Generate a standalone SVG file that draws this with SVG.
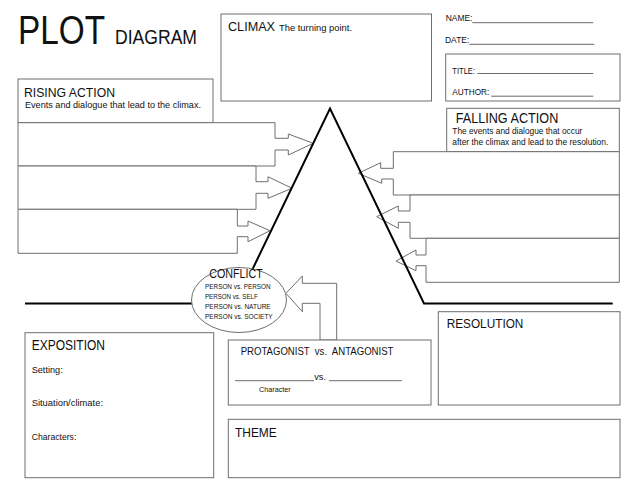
<svg xmlns="http://www.w3.org/2000/svg" width="638" height="493" viewBox="0 0 638 493">
<style>
text{font-family:"Liberation Sans","Open Sans",Arial,sans-serif;fill:#111}
.box{fill:#fff;stroke:#6e6e6e;stroke-width:1}
.ul{stroke:#444;stroke-width:0.8;fill:none}
.plot{fill:none;stroke:#000;stroke-width:2;stroke-linejoin:miter}
.s{font-size:8.6px}
.p{font-size:7.8px}
</style>
<rect width="638" height="493" fill="#fff"/>
<g id="title">
<text x="18" y="44" font-size="40" textLength="87" lengthAdjust="spacingAndGlyphs">PLOT</text>
<text x="115" y="44" font-size="19.5" textLength="82" lengthAdjust="spacingAndGlyphs">DIAGRAM</text>
</g>
<g id="name-date">
<text x="445.7" y="21" font-size="8.8" textLength="26.7" lengthAdjust="spacingAndGlyphs">NAME:</text>
<line class="ul" x1="472.3" y1="22.7" x2="593.3" y2="22.7"/>
<text x="445" y="43.3" font-size="8.8" textLength="24.3" lengthAdjust="spacingAndGlyphs">DATE:</text>
<line class="ul" x1="469.3" y1="44.3" x2="594.3" y2="44.3"/>
</g>
<g id="title-author">
<rect class="box" x="445.7" y="54" width="174.3" height="47"/>
<text x="452.3" y="74" font-size="8.8" textLength="22.7" lengthAdjust="spacingAndGlyphs">TITLE:</text>
<line class="ul" x1="477.3" y1="73.5" x2="593.3" y2="73.5"/>
<text x="452.3" y="95" font-size="8.8" textLength="37" lengthAdjust="spacingAndGlyphs">AUTHOR:</text>
<line class="ul" x1="491.3" y1="96.2" x2="593.3" y2="96.2"/>
</g>
<g id="climax">
<rect class="box" x="221" y="14" width="210.5" height="87"/>
<text x="228" y="30.7" font-size="12.5" textLength="47" lengthAdjust="spacingAndGlyphs">CLIMAX</text>
<text x="279" y="30.7" font-size="9" textLength="73" lengthAdjust="spacingAndGlyphs">The turning point.</text>
</g>
<g id="rising-action">
<rect class="box" x="18" y="79" width="195" height="43.7"/>
<text x="24" y="97" font-size="13" textLength="91" lengthAdjust="spacingAndGlyphs">RISING ACTION</text>
<text x="25" y="108" class="s" textLength="176" lengthAdjust="spacingAndGlyphs">Events and dialogue that lead to the climax.</text>
</g>
<g id="rising-1"><polygon class="box" points="18,122.7 275,122.7 275,138.3 288.3,138.3 288.3,134 313.3,143.3 288.3,155 288.3,150 275,150 275,166 18,166"/></g>
<g id="rising-2"><polygon class="box" points="18,166 256,166 256,181.7 268,181.7 268,176.7 292,188.3 268,198.3 268,193.3 256,193.3 256,209.3 18,209.3"/></g>
<g id="rising-3"><polygon class="box" points="18,209.3 237.3,209.3 237.3,226 248,226 248,221 270,230.7 248,241.7 248,236.7 237.3,236.7 237.3,253.3 18,253.3"/></g>
<g id="falling-action">
<rect class="box" x="446.7" y="108.3" width="172.6" height="43.4"/>
<text x="455.7" y="122.7" font-size="14" textLength="102.6" lengthAdjust="spacingAndGlyphs">FALLING ACTION</text>
<text x="452.3" y="134" class="s" textLength="130" lengthAdjust="spacingAndGlyphs">The events and dialogue that occur</text>
<text x="452.3" y="145.3" class="s" textLength="156" lengthAdjust="spacingAndGlyphs">after the climax and lead to the resolution.</text>
</g>
<g id="falling-1"><polygon class="box" points="619.3,151.7 393.3,151.7 393.3,168.3 380.7,168.3 380.7,162.7 358.3,173.3 381.7,183.3 381.7,179 393.3,179 393.3,195 619.3,195"/></g>
<g id="falling-2"><polygon class="box" points="619.3,195 410,195 410,211 398.3,211 398.3,206 376.7,216.7 398.3,228.3 398.3,222.3 410,222.3 410,238.3 619.3,238.3"/></g>
<g id="falling-3"><polygon class="box" points="619.3,238.3 426,238.3 426,255 416,255 416,250 396,261 416,270.7 416,265.7 426,265.7 426,282.3 619.3,282.3"/></g>
<g id="connectors">
<polyline class="plot" points="25,303.5 236,303.5 330,108.5 424,303.5 612.7,303.5"/>
<polygon class="box" points="336.7,340 336.7,283.3 302.3,283.3 302.3,276 286,293.3 302.3,311.7 302.3,303.3 320,303.3 320,340"/>
</g>
<g id="conflict">
<ellipse class="box" cx="239" cy="300" rx="47.5" ry="32.5"/>
<text x="209.3" y="278.3" font-size="12.5" textLength="53.4" lengthAdjust="spacingAndGlyphs">CONFLICT</text>
<text x="205" y="289" class="p" textLength="65.7" lengthAdjust="spacingAndGlyphs">PERSON vs. PERSON</text>
<text x="205" y="299" class="p" textLength="52.7" lengthAdjust="spacingAndGlyphs">PERSON vs. SELF</text>
<text x="205" y="309" class="p" textLength="65.7" lengthAdjust="spacingAndGlyphs">PERSON vs. NATURE</text>
<text x="205" y="318.7" class="p" textLength="67.7" lengthAdjust="spacingAndGlyphs">PERSON vs. SOCIETY</text>
</g>
<g id="resolution">
<rect class="box" x="438.3" y="311.7" width="181.7" height="93.3"/>
<text x="446.7" y="327.5" font-size="13" textLength="76.7" lengthAdjust="spacingAndGlyphs">RESOLUTION</text>
</g>
<g id="exposition">
<rect class="box" x="25" y="332.7" width="188.7" height="145"/>
<text x="31.7" y="350" font-size="14" textLength="73.3" lengthAdjust="spacingAndGlyphs">EXPOSITION</text>
<text x="31.7" y="373" font-size="9.5" textLength="31" lengthAdjust="spacingAndGlyphs">Setting:</text>
<text x="31.7" y="406.3" font-size="9.5" textLength="71.3" lengthAdjust="spacingAndGlyphs">Situation/climate:</text>
<text x="31.7" y="440" font-size="9.5" textLength="44.6" lengthAdjust="spacingAndGlyphs">Characters:</text>
</g>
<g id="protagonist">
<rect class="box" x="228.3" y="340" width="202.7" height="65"/>
<text x="240.7" y="354.5" font-size="10.5" style="white-space:pre" textLength="152.7" lengthAdjust="spacingAndGlyphs">PROTAGONIST  vs.  ANTAGONIST</text>
<line class="ul" x1="235" y1="380.7" x2="314" y2="380.7"/>
<text x="314.3" y="380" font-size="9.5" textLength="11.7" lengthAdjust="spacingAndGlyphs">vs.</text>
<line class="ul" x1="329" y1="380.7" x2="401.7" y2="380.7"/>
<text x="259" y="391.5" font-size="7.5" textLength="31.7" lengthAdjust="spacingAndGlyphs">Character</text>
</g>
<g id="theme">
<rect class="box" x="228.3" y="419.3" width="391.7" height="58.4"/>
<text x="235" y="437" font-size="13.5" textLength="41.7" lengthAdjust="spacingAndGlyphs">THEME</text>
</g>
</svg>
